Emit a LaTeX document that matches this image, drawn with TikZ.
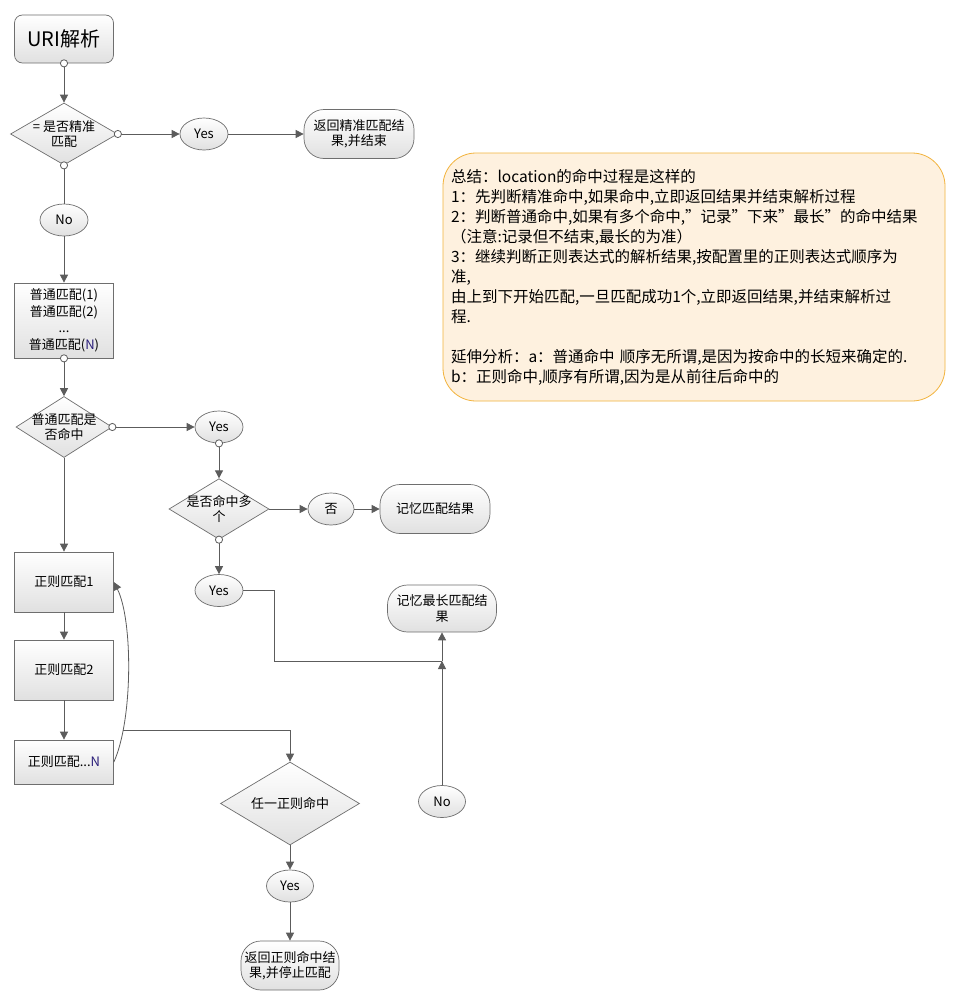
\documentclass[tikz,border=0pt]{standalone}
\usepackage{fontspec}
\setmainfont{Noto Sans CJK SC}
\usepackage{tikz}
\usetikzlibrary{shapes.geometric,arrows.meta}
\definecolor{linegray}{HTML}{5C5C5C}
\definecolor{boxgray}{HTML}{6E6E6E}
\definecolor{notefill}{HTML}{FEF1DF}
\definecolor{notedraw}{HTML}{F2B33D}
\definecolor{navy}{HTML}{2B1F7A}

\begin{document}
\begin{tikzpicture}[x=1pt,y=-1pt,
  font=\fontsize{13}{15.5}\selectfont,
  gfill/.style={draw=boxgray, top color=white, bottom color=black!12, line width=0.7pt},
  proc/.style={gfill, rectangle, minimum width=99pt, inner sep=0pt, align=center},
  term/.style={gfill, rectangle, rounded corners=20pt, minimum width=110pt, minimum height=49pt, inner sep=0pt, align=center},
  cond/.style={gfill, diamond, inner sep=-8pt, align=center},
  yesno/.style={gfill, ellipse, minimum width=48pt, minimum height=32pt, inner sep=0pt},
  line/.style={draw=linegray, line width=0.8pt},
  arr/.style={line, -{Triangle[length=8pt,width=8pt]}},
  dotarr/.style={line, {Circle[length=8pt,fill=white]}-{Triangle[length=8pt,width=8pt]}, shorten <=-4pt},
  dotline/.style={line, {Circle[length=8pt,fill=white]}-, shorten <=-4pt}]
\fill[white] (0,0) rectangle (962,1001);
\useasboundingbox (0,0) rectangle (962,1001);

\node[proc, rounded corners=8pt, minimum height=48pt, font=\fontsize{20}{24}\selectfont] (uri) at (64,39) {URI解析};
\node[cond, minimum width=107pt, minimum height=62pt] (exact) at (64,134) {= 是否精准\\匹配};
\node[yesno] (yesA) at (204,134) {Yes};
\node[term] (retA) at (359,134) {返回精准匹配结\\果,并结束};
\node[yesno] (noA) at (64,220) {No};
\node[proc, minimum height=75pt, font=\fontsize{13}{16.5}\selectfont] (plain) at (64,320.5) {普通匹配(1)\\普通匹配(2)\\...\\普通匹配(\textcolor{navy}{N})};
\node[cond, minimum width=96pt, minimum height=61pt] (plainhit) at (64,427) {普通匹配是\\否命中};
\node[yesno] (yesB) at (219,427) {Yes};
\node[cond, minimum width=100pt, minimum height=58pt] (multi) at (219,509) {是否命中多\\个};
\node[yesno, minimum width=46pt] (fou) at (331,509) {否};
\node[term] (memA) at (435,509) {记忆匹配结果};
\node[yesno] (yesC) at (219,590.5) {Yes};
\node[term, minimum width=109pt, minimum height=47pt] (memB) at (442,608.5) {记忆最长匹配结\\果};
\node[yesno, minimum width=47pt] (noB) at (442,801.5) {No};
\node[proc, minimum height=60pt] (reA) at (64,582) {正则匹配1};
\node[proc, minimum height=60pt] (reB) at (64,670) {正则匹配2};
\node[proc, minimum height=44pt] (reC) at (64,762) {正则匹配...\textcolor{navy}{N}};
\node[cond, minimum width=139pt, minimum height=83pt] (rehit) at (290,803.5) {任一正则命中};
\node[yesno, minimum width=47pt] (yesD) at (290,886) {Yes};
\node[term, minimum width=98pt] (retB) at (290,965.5) {返回正则命中结\\果,并停止匹配};
\node[draw=notedraw, fill=notefill, rounded corners=33pt, line width=0.8pt, minimum width=502pt, minimum height=248pt, text width=486pt, inner sep=8pt, align=left, font=\fontsize{15.5}{20}\selectfont] (note) at (694,277) {总结：location的命中过程是这样的\\
1：先判断精准命中,如果命中,立即返回结果并结束解析过程\\
2：判断普通命中,如果有多个命中,"记录"下来"最长"的命中结果\\
（注意:记录但不结束,最长的为准）\\
3：继续判断正则表达式的解析结果,按配置里的正则表达式顺序为\\
准,\\
由上到下开始匹配,一旦匹配成功1个,立即返回结果,并结束解析过\\
程.\\[20pt]
延伸分析：a：普通命中 顺序无所谓,是因为按命中的长短来确定的.\\
b：正则命中,顺序有所谓,因为是从前往后命中的};

\draw[dotarr] (uri) -- (exact);
\draw[dotarr] (exact.east) -- (yesA);
\draw[arr] (yesA) -- (retA);
\draw[dotline] (exact.south) -- (noA);
\draw[arr] (noA) -- (plain);
\draw[dotarr] (plain) -- (plainhit);
\draw[dotarr] (plainhit.east) -- (yesB);
\draw[dotarr] (yesB) -- (multi);
\draw[arr] (multi.east) -- (fou);
\draw[arr] (fou) -- (memA);
\draw[dotarr] (multi.south) -- (yesC);
\coordinate (join) at (442,661);
\draw[line] (yesC.east) -- ++(31,0) |- (join);
\draw[arr] (join) -- (memB);
\draw[arr] (noB) -- (join);
\draw[arr] (plainhit.south) -- (reA);
\draw[arr] (reA) -- (reB);
\draw[arr] (reB) -- (reC);
\draw[arr] (reC.east) .. controls (133,720) and (133,620) .. coordinate[pos=0.2] (loop) (reA.east);
\draw[arr] (loop) -| (rehit);
\draw[arr] (rehit) -- (yesD);
\draw[arr] (yesD) -- (retB);
\end{tikzpicture}
\end{document}
